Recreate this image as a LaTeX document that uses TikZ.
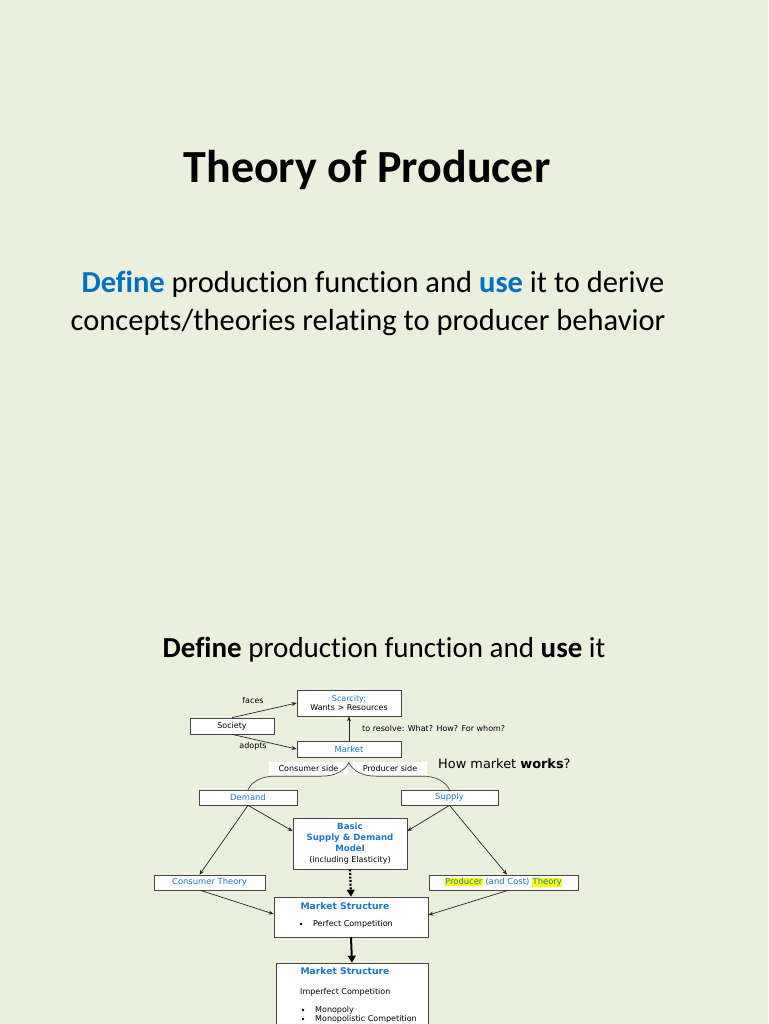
\documentclass[tikz,border=0pt]{standalone}
\usepackage{fontspec}
\setmainfont{Carlito}[Ligatures=NoCommon]
\newfontfamily\dv{DejaVu Sans}
\usetikzlibrary{arrows.meta,decorations.pathreplacing}
\definecolor{bg}{RGB}{235,239,222}
\definecolor{ablue}{RGB}{0,112,192}
\definecolor{dblue}{RGB}{30,118,200}
\definecolor{edge}{RGB}{70,70,70}
\definecolor{hly}{RGB}{255,255,0}
\tikzset{
  bx/.style={draw=edge, line width=0.7pt, fill=white, inner sep=0pt, align=center,
    font=\dv\fontsize{8}{9.5}\selectfont},
  lbl/.style={inner sep=0pt, font=\dv\fontsize{8}{9.5}\selectfont},
  arr/.style={draw=black!85, line width=0.7pt, -{Stealth[length=5pt,width=4pt]}},
  bluetxt/.style={text=dblue, font=\dv\fontsize{8.4}{10}\selectfont},
  bul/.style={circle, fill=black, inner sep=0pt, minimum size=2.8pt},
}
\newcommand{\hlt}[1]{{\setlength{\fboxsep}{0.6pt}\colorbox{hly}{#1}}}
\newcommand{\bb}[1]{{\bfseries\color{dblue}#1}}
\begin{document}
\begin{tikzpicture}[x=1pt,y=-1pt]
\fill[bg] (0,0) rectangle (768,1024);
\useasboundingbox (0,0) rectangle (768,1024);
\clip (0,0) rectangle (768,1024);

% headings
\node[inner sep=0pt, font=\bfseries\fontsize{46}{52}\selectfont] (title) at (367,170) {Theory of Producer};
\node[inner sep=0pt, font=\fontsize{30.5}{34}\selectfont] (sub1) at (373,284)
  {{\bfseries\color{ablue}Define} production function and {\bfseries\color{ablue}use} it to derive};
\node[inner sep=0pt, font=\fontsize{30.5}{34}\selectfont] (sub2) at (368,323)
  {concepts/theories relating to producer behavior};
\node[inner sep=0pt, font=\fontsize{29}{33}\selectfont] (head) at (384,650)
  {\textbf{Define} production function and \textbf{use} it};

% boxes
\node[bx, minimum width=104, minimum height=26] (scar) at (349,703)
  {{\color{dblue}Scarcity:}\\Wants > Resources};
\node[bx, minimum width=84, minimum height=16] (soc) at (232,726) {Society};
\node[bx, minimum width=104, minimum height=16, bluetxt] (mkt) at (349,749) {Market};
\node[bx, minimum width=98, minimum height=15, bluetxt] (dem) at (248,797.5) {Demand};
\node[bx, minimum width=97, minimum height=15, bluetxt] (sup) at (449.5,797.5) {Supply};
\node[bx, minimum width=114, minimum height=51, font=\dv\fontsize{8.6}{11}\selectfont] (basic) at (350,843.5)
  {\bb{Basic}\\\bb{Supply \& Demand}\\\bb{Model}\\{\fontsize{8}{11}\selectfont (including Elasticity)}};
\node[bx, minimum width=111, minimum height=15, bluetxt] (ct) at (209.5,882.5) {Consumer Theory};
\node[bx, minimum width=149, minimum height=15, bluetxt] (pt) at (503.5,882.5)
  {\hlt{Producer} (and Cost) \hlt{Theory}};
\node[bx, minimum width=154, minimum height=40] (ms1) at (351,917) {};
\node[bx, minimum width=152, minimum height=77] (ms2) at (352,1001.5) {};

% inner texts of market structure boxes
\node[lbl, font=\dv\bfseries\fontsize{9.2}{11}\selectfont, text=dblue] (ms1t) at (345,906) {Market Structure};
\node[bul] (ms1b) at (301,924) {};
\node[lbl, anchor=west] (ms1c) at (313,924) {Perfect Competition};
\node[lbl, font=\dv\bfseries\fontsize{9.2}{11}\selectfont, text=dblue] (ms2t) at (345,971) {Market Structure};
\node[lbl, anchor=west] (ms2i) at (300,992) {Imperfect Competition};
\node[bul] (ms2b1) at (303,1010) {};
\node[lbl, anchor=west] (ms2m1) at (315,1010) {Monopoly};
\node[bul] (ms2b2) at (303,1019) {};
\node[lbl, anchor=west] (ms2m2) at (315,1019) {Monopolistic Competition};

% side labels
\node[lbl] (faces) at (253,701) {faces};
\node[lbl] (adopts) at (253,746.5) {adopts};
\node[lbl, anchor=west] (resolve) at (362,729) {to resolve: What? How? For whom?};
\node[lbl, fill=white, minimum width=79, minimum height=13] (cside) at (308.5,768.5) {Consumer side};
\node[lbl, fill=white, minimum width=74, minimum height=13] (pside) at (390,768.5) {Producer side};
\node[lbl, anchor=west, font=\dv\fontsize{12.9}{15}\selectfont] (how) at (438,764) {How market \textbf{works}?};

% brace
\draw[edge, line width=0.7pt, decorate, decoration={brace, amplitude=27pt}] (dem.north) -- (sup.north);

% connectors
\draw[arr] (soc.north) -- (scar.west);
\draw[arr] (soc.south) -- (mkt.west);
\draw[arr] (mkt.north) -- (scar.south);
\draw[arr] (dem.south) -- ([xshift=-10pt]ct.north);
\draw[arr] (dem.south) -- ([yshift=12.5pt]basic.west);
\draw[arr] (sup.south) -- ([yshift=12.5pt]basic.east);
\draw[arr] (sup.south) -- ([xshift=3.5pt]pt.north);
\draw[arr] ([xshift=-9pt]ct.south) -- ([yshift=3pt]ms1.west);
\draw[arr] ([xshift=4.5pt]pt.south) -- ([yshift=2pt]ms1.east);
\draw[black, line width=2.2pt, dash pattern=on 2pt off 1.6pt, -{Triangle[length=7pt,width=8pt]}] (basic.south) -- (ms1.north);
\draw[black, line width=2pt, -{Triangle[length=7pt,width=8pt]}] (ms1.south) -- (ms2.north);
\end{tikzpicture}
\end{document}
